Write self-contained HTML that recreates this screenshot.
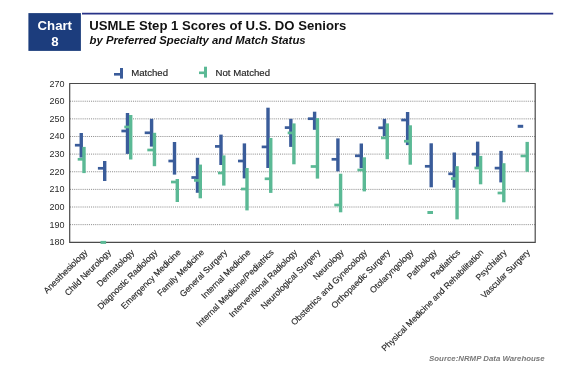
<!DOCTYPE html>
<html><head><meta charset="utf-8"><style>
html,body{margin:0;padding:0;background:#fff;}
body{width:575px;height:374px;overflow:hidden;position:relative;}
svg{position:absolute;left:0;top:0;filter:blur(0.35px);}
text{font-family:"Liberation Sans",sans-serif;}
</style></head><body>
<svg width="575" height="374" viewBox="0 0 575 374">
<rect x="0" y="0" width="575" height="374" fill="#fff"/>
<rect x="28.4" y="13.1" width="52.5" height="37.8" fill="#1c3d7d"/>
<line x1="82" y1="13.6" x2="553.2" y2="13.6" stroke="#283388" stroke-width="1.6"/>
<text x="54.8" y="30.3" text-anchor="middle" fill="#fff" font-weight="bold" font-size="13.2">Chart</text>
<text x="54.9" y="45.6" text-anchor="middle" fill="#fff" font-weight="bold" font-size="13.2">8</text>
<text x="89.3" y="29.9" fill="#111" font-weight="bold" font-size="13.15">USMLE Step 1 Scores of U.S. DO Seniors</text>
<text x="89.6" y="43.6" fill="#111" font-weight="bold" font-style="italic" font-size="11.3">by Preferred Specialty and Match Status</text>
<g font-size="9.6" fill="#222" stroke="#222" stroke-width="0.15">
<rect x="114" y="73" width="7" height="2.6" fill="#3a5c9a" stroke="none"/>
<rect x="120" y="68" width="3" height="10.6" fill="#3a5c9a" stroke="none"/>
<text x="131.2" y="76.1">Matched</text>
<rect x="199" y="71.5" width="7" height="2.6" fill="#5bb995" stroke="none"/>
<rect x="204" y="66.7" width="3" height="10.9" fill="#5bb995" stroke="none"/>
<text x="215.6" y="76.1">Not Matched</text>
</g>
<line x1="70" y1="224.64" x2="535.2" y2="224.64" stroke="#8e8e8e" stroke-width="1" stroke-dasharray="1.05 1.05"/>
<line x1="70" y1="207.01" x2="535.2" y2="207.01" stroke="#8e8e8e" stroke-width="1" stroke-dasharray="1.05 1.05"/>
<line x1="70" y1="189.38" x2="535.2" y2="189.38" stroke="#8e8e8e" stroke-width="1" stroke-dasharray="1.05 1.05"/>
<line x1="70" y1="171.75" x2="535.2" y2="171.75" stroke="#8e8e8e" stroke-width="1" stroke-dasharray="1.05 1.05"/>
<line x1="70" y1="154.12" x2="535.2" y2="154.12" stroke="#8e8e8e" stroke-width="1" stroke-dasharray="1.05 1.05"/>
<line x1="70" y1="136.49" x2="535.2" y2="136.49" stroke="#8e8e8e" stroke-width="1" stroke-dasharray="1.05 1.05"/>
<line x1="70" y1="118.86" x2="535.2" y2="118.86" stroke="#8e8e8e" stroke-width="1" stroke-dasharray="1.05 1.05"/>
<line x1="70" y1="101.23" x2="535.2" y2="101.23" stroke="#8e8e8e" stroke-width="1" stroke-dasharray="1.05 1.05"/>
<path d="M69.7 83.5 V242.3 H535.2 V83.5 Z" fill="none" stroke="#4a4a4a" stroke-width="1.2"/>
<rect x="79.55" y="133.00" width="3.4" height="24.60" fill="#3a5c9a"/>
<rect x="74.90" y="143.85" width="6.35" height="2.7" fill="#3a5c9a"/>
<rect x="82.30" y="146.90" width="3.4" height="26.20" fill="#5bb995"/>
<rect x="77.70" y="157.95" width="6.30" height="2.7" fill="#5bb995"/>
<rect x="103.00" y="161.00" width="3.4" height="20.00" fill="#3a5c9a"/>
<rect x="97.90" y="166.95" width="6.80" height="2.7" fill="#3a5c9a"/>
<rect x="125.80" y="113.00" width="3.4" height="40.90" fill="#3a5c9a"/>
<rect x="121.40" y="129.65" width="6.10" height="2.7" fill="#3a5c9a"/>
<rect x="129.00" y="115.00" width="3.4" height="44.50" fill="#5bb995"/>
<rect x="124.30" y="125.65" width="6.40" height="2.7" fill="#5bb995"/>
<rect x="149.90" y="118.80" width="3.4" height="27.80" fill="#3a5c9a"/>
<rect x="144.70" y="131.45" width="6.90" height="2.7" fill="#3a5c9a"/>
<rect x="152.75" y="132.80" width="3.4" height="33.40" fill="#5bb995"/>
<rect x="147.30" y="148.65" width="7.15" height="2.7" fill="#5bb995"/>
<rect x="172.80" y="142.00" width="3.4" height="32.60" fill="#3a5c9a"/>
<rect x="168.40" y="159.65" width="6.10" height="2.7" fill="#3a5c9a"/>
<rect x="175.60" y="179.00" width="3.4" height="23.00" fill="#5bb995"/>
<rect x="171.00" y="180.65" width="6.30" height="2.7" fill="#5bb995"/>
<rect x="195.80" y="157.80" width="3.4" height="35.00" fill="#3a5c9a"/>
<rect x="191.40" y="176.15" width="6.10" height="2.7" fill="#3a5c9a"/>
<rect x="198.60" y="164.60" width="3.4" height="33.70" fill="#5bb995"/>
<rect x="194.00" y="179.05" width="6.30" height="2.7" fill="#5bb995"/>
<rect x="219.30" y="134.60" width="3.4" height="30.40" fill="#3a5c9a"/>
<rect x="215.00" y="145.05" width="6.00" height="2.7" fill="#3a5c9a"/>
<rect x="222.10" y="155.40" width="3.4" height="30.20" fill="#5bb995"/>
<rect x="218.00" y="171.65" width="5.80" height="2.7" fill="#5bb995"/>
<rect x="242.70" y="143.40" width="3.4" height="35.00" fill="#3a5c9a"/>
<rect x="238.00" y="159.65" width="6.40" height="2.7" fill="#3a5c9a"/>
<rect x="245.30" y="168.00" width="3.4" height="42.40" fill="#5bb995"/>
<rect x="241.00" y="187.65" width="6.00" height="2.7" fill="#5bb995"/>
<rect x="266.30" y="107.70" width="3.4" height="60.30" fill="#3a5c9a"/>
<rect x="261.70" y="145.55" width="6.30" height="2.7" fill="#3a5c9a"/>
<rect x="269.05" y="138.00" width="3.4" height="54.90" fill="#5bb995"/>
<rect x="264.70" y="177.45" width="6.05" height="2.7" fill="#5bb995"/>
<rect x="289.15" y="118.80" width="3.4" height="28.10" fill="#3a5c9a"/>
<rect x="284.80" y="126.25" width="6.05" height="2.7" fill="#3a5c9a"/>
<rect x="292.20" y="123.40" width="3.4" height="40.90" fill="#5bb995"/>
<rect x="287.70" y="131.55" width="6.20" height="2.7" fill="#5bb995"/>
<rect x="312.90" y="111.70" width="3.4" height="18.10" fill="#3a5c9a"/>
<rect x="307.90" y="117.35" width="6.70" height="2.7" fill="#3a5c9a"/>
<rect x="315.75" y="118.10" width="3.4" height="60.50" fill="#5bb995"/>
<rect x="310.70" y="165.15" width="6.75" height="2.7" fill="#5bb995"/>
<rect x="336.20" y="138.40" width="3.4" height="33.00" fill="#3a5c9a"/>
<rect x="331.60" y="157.95" width="6.30" height="2.7" fill="#3a5c9a"/>
<rect x="338.90" y="173.70" width="3.4" height="38.60" fill="#5bb995"/>
<rect x="334.30" y="203.65" width="6.30" height="2.7" fill="#5bb995"/>
<rect x="359.60" y="143.50" width="3.4" height="24.70" fill="#3a5c9a"/>
<rect x="355.00" y="154.45" width="6.30" height="2.7" fill="#3a5c9a"/>
<rect x="362.60" y="157.30" width="3.4" height="34.10" fill="#5bb995"/>
<rect x="357.40" y="168.65" width="6.90" height="2.7" fill="#5bb995"/>
<rect x="382.75" y="118.80" width="3.4" height="17.40" fill="#3a5c9a"/>
<rect x="378.30" y="126.45" width="6.15" height="2.7" fill="#3a5c9a"/>
<rect x="385.55" y="123.40" width="3.4" height="35.80" fill="#5bb995"/>
<rect x="381.00" y="136.55" width="6.25" height="2.7" fill="#5bb995"/>
<rect x="405.90" y="112.00" width="3.4" height="33.10" fill="#3a5c9a"/>
<rect x="401.20" y="118.65" width="6.40" height="2.7" fill="#3a5c9a"/>
<rect x="408.55" y="125.30" width="3.4" height="39.40" fill="#5bb995"/>
<rect x="404.00" y="139.85" width="6.25" height="2.7" fill="#5bb995"/>
<rect x="429.50" y="143.30" width="3.4" height="44.00" fill="#3a5c9a"/>
<rect x="424.90" y="164.95" width="6.30" height="2.7" fill="#3a5c9a"/>
<rect x="452.60" y="152.50" width="3.4" height="35.10" fill="#3a5c9a"/>
<rect x="448.30" y="172.45" width="6.00" height="2.7" fill="#3a5c9a"/>
<rect x="455.35" y="166.20" width="3.4" height="53.20" fill="#5bb995"/>
<rect x="451.00" y="177.25" width="6.05" height="2.7" fill="#5bb995"/>
<rect x="475.95" y="141.60" width="3.4" height="25.80" fill="#3a5c9a"/>
<rect x="471.90" y="152.75" width="5.75" height="2.7" fill="#3a5c9a"/>
<rect x="478.90" y="155.90" width="3.4" height="28.40" fill="#5bb995"/>
<rect x="474.50" y="166.65" width="6.10" height="2.7" fill="#5bb995"/>
<rect x="499.30" y="150.90" width="3.4" height="31.50" fill="#3a5c9a"/>
<rect x="494.70" y="166.75" width="6.30" height="2.7" fill="#3a5c9a"/>
<rect x="502.10" y="163.20" width="3.4" height="39.10" fill="#5bb995"/>
<rect x="497.60" y="191.65" width="6.20" height="2.7" fill="#5bb995"/>
<rect x="100.5" y="240.9" width="5.6" height="3" fill="#5bb995"/>
<rect x="427.4" y="211" width="5.6" height="3" fill="#5bb995"/>
<rect x="517.7" y="124.8" width="5.5" height="3" fill="#3a5c9a"/>
<rect x="525.5" y="141.9" width="3.4" height="29.9" fill="#5bb995"/>
<rect x="520.6" y="154.7" width="6.6" height="2.6" fill="#5bb995"/>
<g font-size="9" fill="#2a2a2a">
<text x="64.6" y="245.17" text-anchor="end">180</text>
<text x="64.6" y="227.54" text-anchor="end">190</text>
<text x="64.6" y="209.91" text-anchor="end">200</text>
<text x="64.6" y="192.28" text-anchor="end">210</text>
<text x="64.6" y="174.65" text-anchor="end">220</text>
<text x="64.6" y="157.02" text-anchor="end">230</text>
<text x="64.6" y="139.39" text-anchor="end">240</text>
<text x="64.6" y="121.76" text-anchor="end">250</text>
<text x="64.6" y="104.13" text-anchor="end">260</text>
<text x="64.6" y="86.50" text-anchor="end">270</text>
</g>
<g font-size="8.6" fill="#262626" stroke="#262626" stroke-width="0.14">
<text transform="translate(88.14,252.90) rotate(-45)" text-anchor="end">Anesthesiology</text>
<text transform="translate(111.43,252.90) rotate(-45)" text-anchor="end">Child Neurology</text>
<text transform="translate(134.71,252.90) rotate(-45)" text-anchor="end">Dermatology</text>
<text transform="translate(158.00,252.90) rotate(-45)" text-anchor="end">Diagnostic Radiology</text>
<text transform="translate(181.28,252.90) rotate(-45)" text-anchor="end">Emergency Medicine</text>
<text transform="translate(204.57,252.90) rotate(-45)" text-anchor="end">Family Medicine</text>
<text transform="translate(227.85,252.90) rotate(-45)" text-anchor="end">General Surgery</text>
<text transform="translate(251.14,252.90) rotate(-45)" text-anchor="end">Internal Medicine</text>
<text transform="translate(274.42,252.90) rotate(-45)" text-anchor="end">Internal Medicine/Pediatrics</text>
<text transform="translate(297.71,252.90) rotate(-45)" text-anchor="end">Interventional Radiology</text>
<text transform="translate(320.99,252.90) rotate(-45)" text-anchor="end">Neurological Surgery</text>
<text transform="translate(344.28,252.90) rotate(-45)" text-anchor="end">Neurology</text>
<text transform="translate(367.56,252.90) rotate(-45)" text-anchor="end">Obstetrics and Gynecology</text>
<text transform="translate(390.85,252.90) rotate(-45)" text-anchor="end">Orthopaedic Surgery</text>
<text transform="translate(414.13,252.90) rotate(-45)" text-anchor="end">Otolaryngology</text>
<text transform="translate(437.42,252.90) rotate(-45)" text-anchor="end">Pathology</text>
<text transform="translate(460.70,252.90) rotate(-45)" text-anchor="end">Pediatrics</text>
<text transform="translate(483.99,252.90) rotate(-45)" text-anchor="end">Physical Medicine and Rehabilitation</text>
<text transform="translate(507.27,252.90) rotate(-45)" text-anchor="end">Psychiatry</text>
<text transform="translate(530.56,252.90) rotate(-45)" text-anchor="end">Vascular Surgery</text>
</g>
<text x="544.6" y="361.4" text-anchor="end" fill="#787878" font-weight="bold" font-style="italic" font-size="7.85">Source:NRMP Data Warehouse</text>
</svg>
</body></html>
